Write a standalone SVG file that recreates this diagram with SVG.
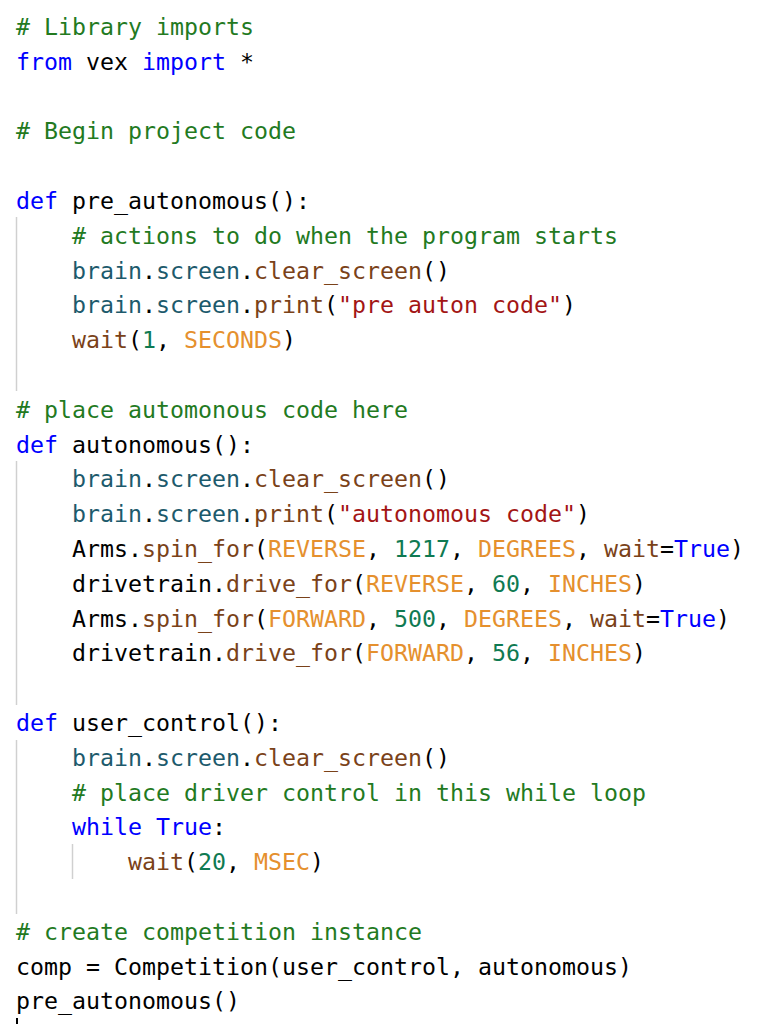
<svg xmlns="http://www.w3.org/2000/svg" width="780" height="1024" viewBox="0 0 780 1024">
<style>
text{font-family:"DejaVu Sans Mono","Liberation Mono",monospace;font-size:23.25px;fill:#000000;white-space:pre}
.c{fill:#237a1f}
.k{fill:#0000ff}
.v{fill:#1d5a6c}
.f{fill:#7a4219}
.s{fill:#a31515}
.n{fill:#0f7a52}
.o{fill:#e5902e}
.g{stroke:#d0d0d0;stroke-width:1.5}
</style>
<rect x="0" y="0" width="780" height="1024" fill="#ffffff"/>
<g id="guides">
<line class="g" x1="16.5" y1="217" x2="16.5" y2="391"/>
<line class="g" x1="16.5" y1="461" x2="16.5" y2="705"/>
<line class="g" x1="16.5" y1="740" x2="16.5" y2="914"/>
<line class="g" x1="72.5" y1="844" x2="72.5" y2="879"/>
</g>
<g id="code" xml:space="preserve">
<text x="16" y="35"><tspan class="c"># Library imports</tspan></text>
<text x="16" y="69.8"><tspan class="k">from</tspan> vex <tspan class="k">import</tspan> *</text>
<text x="16" y="139.4"><tspan class="c"># Begin project code</tspan></text>
<text x="16" y="209"><tspan class="k">def</tspan> pre_autonomous():</text>
<text x="72" y="243.8"><tspan class="c"># actions to do when the program starts</tspan></text>
<text x="72" y="278.6"><tspan class="v">brain</tspan>.<tspan class="v">screen</tspan>.<tspan class="f">clear_screen</tspan>()</text>
<text x="72" y="313.4"><tspan class="v">brain</tspan>.<tspan class="v">screen</tspan>.<tspan class="f">print</tspan>(<tspan class="s">"pre auton code"</tspan>)</text>
<text x="72" y="348.2"><tspan class="f">wait</tspan>(<tspan class="n">1</tspan>, <tspan class="o">SECONDS</tspan>)</text>
<text x="16" y="417.8"><tspan class="c"># place automonous code here</tspan></text>
<text x="16" y="452.6"><tspan class="k">def</tspan> autonomous():</text>
<text x="72" y="487.4"><tspan class="v">brain</tspan>.<tspan class="v">screen</tspan>.<tspan class="f">clear_screen</tspan>()</text>
<text x="72" y="522.2"><tspan class="v">brain</tspan>.<tspan class="v">screen</tspan>.<tspan class="f">print</tspan>(<tspan class="s">"autonomous code"</tspan>)</text>
<text x="72" y="557">Arms.<tspan class="f">spin_for</tspan>(<tspan class="o">REVERSE</tspan>, <tspan class="n">1217</tspan>, <tspan class="o">DEGREES</tspan>, <tspan class="f">wait</tspan>=<tspan class="k">True</tspan>)</text>
<text x="72" y="591.8">drivetrain.<tspan class="f">drive_for</tspan>(<tspan class="o">REVERSE</tspan>, <tspan class="n">60</tspan>, <tspan class="o">INCHES</tspan>)</text>
<text x="72" y="626.6">Arms.<tspan class="f">spin_for</tspan>(<tspan class="o">FORWARD</tspan>, <tspan class="n">500</tspan>, <tspan class="o">DEGREES</tspan>, <tspan class="f">wait</tspan>=<tspan class="k">True</tspan>)</text>
<text x="72" y="661.4">drivetrain.<tspan class="f">drive_for</tspan>(<tspan class="o">FORWARD</tspan>, <tspan class="n">56</tspan>, <tspan class="o">INCHES</tspan>)</text>
<text x="16" y="731"><tspan class="k">def</tspan> user_control():</text>
<text x="72" y="765.8"><tspan class="v">brain</tspan>.<tspan class="v">screen</tspan>.<tspan class="f">clear_screen</tspan>()</text>
<text x="72" y="800.6"><tspan class="c"># place driver control in this while loop</tspan></text>
<text x="72" y="835.4"><tspan class="k">while</tspan> <tspan class="k">True</tspan>:</text>
<text x="128" y="870.2"><tspan class="f">wait</tspan>(<tspan class="n">20</tspan>, <tspan class="o">MSEC</tspan>)</text>
<text x="16" y="939.8"><tspan class="c"># create competition instance</tspan></text>
<text x="16" y="974.6">comp = Competition(user_control, autonomous)</text>
<text x="16" y="1009.4">pre_autonomous()</text>
</g>
<rect id="cursor" x="16" y="1018" width="2" height="6" fill="#000000"/>
</svg>
